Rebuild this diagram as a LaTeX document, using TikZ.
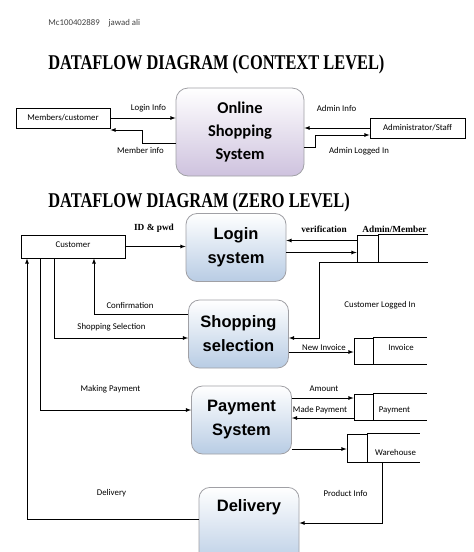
\documentclass[tikz,border=0pt]{standalone}
\usepackage{fontspec}
\setmainfont{Carlito}
\newfontfamily\procfont{Liberation Sans}
\newfontfamily\titlefont{Liberation Serif}
\usepackage{tikz}
\usetikzlibrary{arrows}
\usetikzlibrary{positioning}
\definecolor{ctxbottom}{RGB}{206,194,222}
\definecolor{procbottom}{RGB}{184,204,228}
\definecolor{procborder}{RGB}{160,160,165}
\tikzstyle{DFD_style}=[
	x=1pt,y=-1pt,>=latex,line width=0.8pt,
	entity/.style={rectangle,draw,line width=0.8pt,inner sep=0pt,font=\fontsize{8.8}{10}\selectfont},
	context/.style={rectangle,rounded corners=12pt,draw=procborder,top color=white,bottom color=ctxbottom,minimum width=128pt,minimum height=88pt,align=center,font=\fontsize{16.5}{23}\selectfont\bfseries},
	process/.style={rectangle,rounded corners=11pt,draw=procborder,top color=white,bottom color=procbottom,minimum width=100pt,minimum height=68pt,align=center,font=\procfont\fontsize{16.5}{24}\selectfont\bfseries},
	store/.style={rectangle,draw,line width=0.8pt,inner sep=0pt},
	label/.style={inner sep=0pt,font=\fontsize{8.8}{10}\selectfont},
	serif_label/.style={inner sep=0pt,font=\titlefont\fontsize{9.3}{11}\selectfont\bfseries},
	heading/.style={inner sep=0pt,anchor=west,font=\titlefont\fontsize{16.4}{18}\selectfont\bfseries},
	flow/.style={->,line width=0.8pt}
]

\begin{document}
\begin{tikzpicture}[DFD_style]
		
		\useasboundingbox (0,0) rectangle (474,552);
		\clip (0,0) rectangle (474,552);
		
		\node[label,anchor=west,text=black!75]  (who) at (48,23) {Mc100402889\quad jawad ali};
		
		% context level
		\node[heading]   (title1) at (48,64)  {\scalebox{1}[1.28]{DATAFLOW DIAGRAM (CONTEXT LEVEL)}};
		
		\node[entity,minimum width=94pt,minimum height=20pt]   (members) at (63,118)   {Members/customer};
		\node[context]   (oss) at (240,132)   {Online\\Shopping\\System};
		\node[entity,minimum width=95pt,minimum height=20pt]   (admin) at (417.5,128)   {Administrator/Staff};
		
		\node[label]     (l_login)   at (148.5,108) {Login Info};
		\node[label]     (l_member)  at (140.5,150) {Member info};
		\node[label]     (l_admin)   at (336.5,108) {Admin Info};
		\node[label]     (l_logged)  at (359,151)   {Admin Logged In};
		
		\draw[flow] (members.east) -- (members.east -| oss.west);
		\draw[flow] ([yshift=-11pt]oss.west) -- ++(-33,0) |- ([yshift=-12pt]members.east);
		\draw[flow] (admin.west) -- (admin.west -| oss.east);
		\draw[flow] ([yshift=-15pt]oss.east) -- ++(11,0) |- ([yshift=-7pt]admin.west);
		
		% zero level
		\node[heading]   (title2) at (48,202) {\scalebox{1}[1.28]{DATAFLOW DIAGRAM (ZERO LEVEL)}};
		
		\node[entity,minimum width=104pt,minimum height=23pt,text depth=4pt]   (customer) at (73,246.5)   {Customer};
		
		\node[process]   (login) at (236,247.5)   {Login\\system};
		\node[process]   (shop)  at (238.5,334)   {Shopping\\selection};
		\node[process]   (pay)   at (241.5,420)   {Payment\\System};
		\node[process,anchor=north,minimum height=0pt,inner ysep=6pt,text height=18pt,text depth=50pt]   (deliv) at (249,487)   {Delivery};
		
		\node[store,minimum width=21pt,minimum height=27pt]   (am)  at (367.5,248.5) {};
		\node[store,minimum width=19pt,minimum height=26pt]   (inv) at (363.5,351)   {};
		\node[store,minimum width=19pt,minimum height=26pt]   (ps)  at (363.5,407)   {};
		\node[store,minimum width=20pt,minimum height=28pt]   (wh)  at (357,448)     {};
		\draw (am.north east) -- ++(50,0) (am.south east) -- ++(50,0);
		\draw (inv.north east) -- ++(54,0) (inv.south east) -- ++(54,0);
		\draw (ps.north east) -- ++(54,0) (ps.south east) -- ++(54,0);
		\draw (wh.north east) -- ++(53,0) (wh.south east) -- ++(53,0);
		
		\node[serif_label] (l_am)   at (394.5,229) {Admin/Member};
		\node[label]       (l_inv)  at (401,347)   {Invoice};
		\node[label]       (l_ps)   at (394.5,410) {Payment};
		\node[label]       (l_wh)   at (395.5,452) {Warehouse};
		
		\node[serif_label] (l_idpwd)  at (154,228)   {ID \& pwd};
		\node[serif_label] (l_verif)  at (324,229)   {verification};
		\node[label]       (l_clog)   at (380,305)   {Customer Logged In};
		\node[label]       (l_conf)   at (130,305)   {Confirmation};
		\node[label]       (l_sel)    at (111.5,327) {Shopping Selection};
		\node[label]       (l_mpay)   at (110.5,389) {Making Payment};
		\node[label]       (l_deliv)  at (111.5,493) {Delivery};
		\node[label]       (l_newinv) at (324,347)   {New Invoice};
		\node[label]       (l_amount) at (324,389)   {Amount};
		\node[label]       (l_made)   at (320,410)   {Made Payment};
		\node[label]       (l_prod)   at (345.5,493) {Product Info};
		
		\draw[flow] (customer.east) -- (customer.east -| login.west);
		\draw[flow] ([yshift=8pt]am.west) -- ([yshift=8pt]am.west -| login.east);
		\draw[flow] ([yshift=-5pt]login.east) -- ([yshift=-5pt]login.east -| am.west);
		\draw[flow] (am.south west) -- ++(-37,0) |- ([yshift=-4pt]shop.east);
		\draw[flow] ([yshift=20pt]shop.west) -| ([xshift=21pt]customer.south);
		\draw[flow] ([xshift=-19pt]customer.south) |- ([yshift=-4pt]shop.west);
		\draw[flow] ([xshift=-33pt]customer.south) |- ([yshift=10pt]pay.west);
		\draw[flow] ([yshift=-32pt]deliv.north west) -| ([xshift=-46pt]customer.south);
		\draw[flow] ([yshift=-18pt]shop.east) -- ([yshift=-18pt]shop.east -| inv.west);
		\draw[flow] ([yshift=22pt]pay.east) -- ([yshift=22pt]pay.east -| ps.west);
		\draw[flow] ([yshift=-11pt]ps.west) -- ([yshift=-11pt]ps.west -| pay.east);
		\draw[flow] ([yshift=-29pt]pay.east) -- ([yshift=-29pt]pay.east -| wh.west);
		\draw[flow] ([xshift=15pt]wh.south east) |- ([yshift=-36pt]deliv.north east);
		
		\end{tikzpicture}
\end{document}
